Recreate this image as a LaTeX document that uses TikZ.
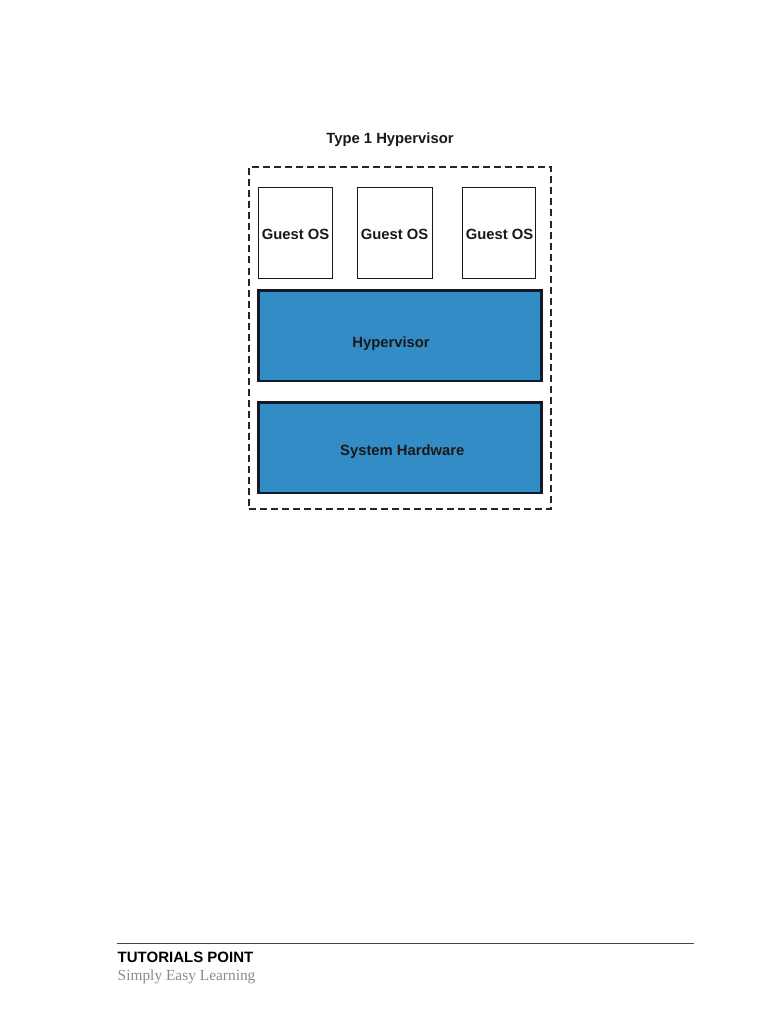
\documentclass[tikz,border=0pt]{standalone}
\usepackage{fontspec}
\setmainfont{Liberation Sans}
\newfontfamily\serifft{Liberation Serif}
\definecolor{layerblue}{RGB}{52,140,199}
\definecolor{edgedark}{RGB}{20,25,35}
\definecolor{footgray}{RGB}{140,140,140}
\definecolor{rulegray}{RGB}{70,70,70}
\begin{document}
\begin{tikzpicture}[x=1pt,y=-1pt,
  guest/.style={draw=edgedark,line width=1.1pt,fill=white,inner sep=0pt,outer sep=0pt},
  layer/.style={draw=edgedark,line width=2.2pt,fill=layerblue,inner sep=0pt,outer sep=0pt},
  outerbox/.style={draw=black!85,line width=2pt,dash pattern=on 7pt off 4pt,inner sep=0pt,outer sep=0pt},
  lbl/.style={font=\fontsize{14.8}{16}\selectfont\bfseries,text=black!90,inner sep=0pt,anchor=base}
]
\useasboundingbox (0,0) rectangle (768,1024);
\fill[white] (0,0) rectangle (768,1024);
% outer dashed container
\node[outerbox,minimum width=302pt,minimum height=341pt] (outer) at (400,338) {};
% guest OS boxes
\node[guest,minimum width=74.4pt,minimum height=91pt] (gb1) at (295.5,233.2) {};
\node[guest,minimum width=75pt,minimum height=91pt] (gb2) at (394.8,233.2) {};
\node[guest,minimum width=73pt,minimum height=91pt] (gb3) at (498.8,233.2) {};
% layers
\node[layer,minimum width=283pt,minimum height=90.5pt] (hb) at (400,335.75) {};
\node[layer,minimum width=283pt,minimum height=90.8pt] (sb) at (400,447.9) {};
% labels
\node[lbl] (title) at (390,144) {Type 1 Hypervisor};
\node[lbl] (g1) at (295.5,239.3) {Guest OS};
\node[lbl] (g2) at (394.5,239.3) {Guest OS};
\node[lbl] (g3) at (499.5,239.3) {Guest OS};
\node[lbl] (hyp) at (391,347.7) {Hypervisor};
\node[lbl] (hw) at (402.3,455.7) {System Hardware};
% footer
\coordinate (fl) at (116.7,943.5);
\coordinate (fr) at (694.3,943.5);
\draw[rulegray,line width=1.1pt] (fl) -- (fr);
\node[font=\fontsize{15}{17}\selectfont\bfseries,anchor=base west,inner sep=0pt] (tp) at (117.5,962) {TUTORIALS POINT};
\node[font=\serifft\fontsize{15.4}{17}\selectfont,text=footgray,anchor=base west,inner sep=0pt] (sel) at (117.5,980) {Simply Easy Learning};
\end{tikzpicture}
\end{document}
